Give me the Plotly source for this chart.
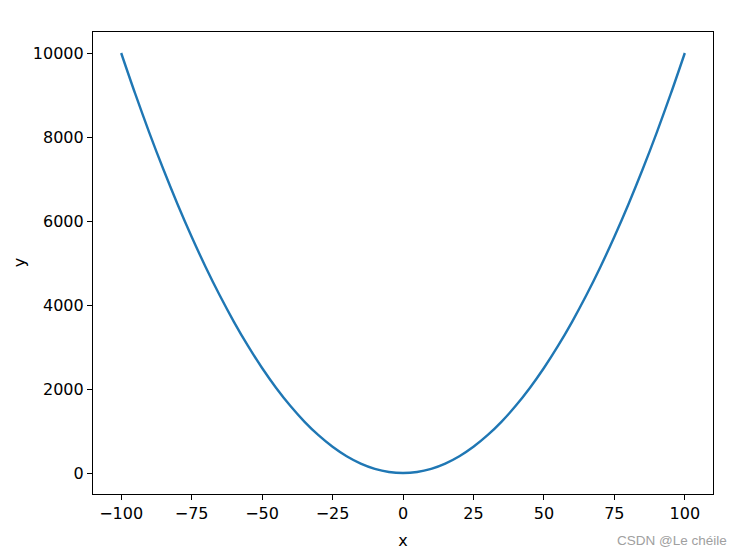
import plotly.graph_objects as go

x_vals = [-100, -95, -90, -85, -80, -75, -70, -65, -60, -55, -50, -45, -40, -35, -30, -25, -20, -15, -10, -5,
          0, 5, 10, 15, 20, 25, 30, 35, 40, 45, 50, 55, 60, 65, 70, 75, 80, 85, 90, 95, 100]
y_vals = [10000, 9025, 8100, 7225, 6400, 5625, 4900, 4225, 3600, 3025, 2500, 2025, 1600, 1225, 900, 625, 400, 225, 100, 25,
          0, 25, 100, 225, 400, 625, 900, 1225, 1600, 2025, 2500, 3025, 3600, 4225, 4900, 5625, 6400, 7225, 8100, 9025, 10000]
x_ticks = [-100, -75, -50, -25, 0, 25, 50, 75, 100]
x_tick_labels = ["\u2212100", "\u221275", "\u221250", "\u221225", "0", "25", "50", "75", "100"]
y_ticks = [0, 2000, 4000, 6000, 8000, 10000]
y_tick_labels = ["0", "2000", "4000", "6000", "8000", "10000"]

fig = go.Figure()
fig.add_trace(go.Scatter(x=x_vals, y=y_vals, mode="lines",
                         line=dict(color="#1f77b4", width=2.4, shape="spline"),
                         showlegend=False, hoverinfo="skip"))

font = dict(family="DejaVu Sans", size=16, color="black")
axis_common = dict(showgrid=False, zeroline=False, showline=True, linecolor="black", linewidth=1.2,
                   mirror=True, ticks="outside", ticklen=5, tickwidth=1.2, tickcolor="black",
                   tickfont=font, automargin=False)

fig.update_xaxes(range=[-110, 110], tickvals=x_ticks, ticktext=x_tick_labels,
                 title=dict(text="x", font=font, standoff=12), **axis_common)
fig.update_yaxes(range=[-500, 10500], tickvals=y_ticks, ticktext=y_tick_labels, **axis_common)

fig.add_annotation(text="y", xref="paper", yref="paper", x=-0.119, y=0.5,
                   xanchor="center", yanchor="middle", textangle=-90, showarrow=False, font=font)

fig.add_annotation(text="CSDN @Le chéile", xref="paper", yref="paper", x=1.0258, y=-0.1017,
                   xanchor="right", yanchor="middle", showarrow=False,
                   font=dict(family="Liberation Sans", size=13.5, color="#a0a0a0"))

fig.update_layout(width=736, height=548, margin=dict(l=85, r=31, t=24, b=62),
                  plot_bgcolor="white", paper_bgcolor="white")

fig.write_html("out.html")
